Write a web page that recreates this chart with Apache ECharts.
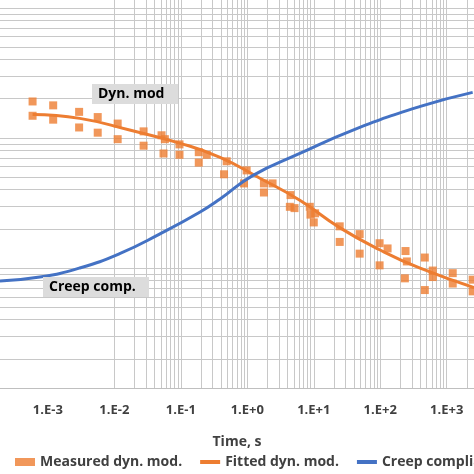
<!DOCTYPE html>
<html><head><meta charset="utf-8">
<script src="https://cdn.jsdelivr.net/npm/echarts@6/dist/echarts.min.js"></script>
<style>html,body{margin:0;padding:0;background:#fff}#c{width:474px;height:474px}</style>
</head><body><div id="c"></div>
<script>
// values stored as log10 exponents (time in s, modulus/compliance arbitrary units)
const measuredLogT = [-3.23,-3.23,-2.92,-2.92,-2.53,-2.53,-2.25,-2.25,-1.95,-1.95,-1.56,-1.56,-1.29,-1.24,-1.26,-1.02,-1.02,-0.73,-0.73,-0.61,-0.35,-0.31,-0.05,-0.01,0.25,0.25,0.38,0.65,0.64,0.71,0.94,0.95,1.02,1.00,1.39,1.39,1.69,1.69,1.99,2.11,1.99,2.38,2.40,2.37,2.67,2.67,2.79,2.79,3.09,3.09,3.39,3.39];
const measuredLogY = [2.28,2.17,2.25,2.14,2.20,2.08,2.16,2.04,2.11,1.99,2.05,1.94,2.02,1.99,1.88,1.95,1.87,1.89,1.81,1.87,1.72,1.82,1.65,1.75,1.65,1.58,1.65,1.56,1.47,1.46,1.47,1.41,1.42,1.35,1.32,1.20,1.26,1.11,1.19,1.15,1.02,1.13,1.05,0.92,1.08,0.83,0.98,0.93,0.96,0.88,0.91,0.82];
const fittedLogT = [-3.23,-2.52,-1.77,-1.02,-0.41,0.19,0.79,1.39,1.99,2.59,3.41];
const fittedLogY = [2.18,2.15,2.06,1.96,1.85,1.69,1.52,1.31,1.14,1.00,0.85];
const creepLogT = [-3.72,-3.12,-2.52,-1.92,-1.32,-0.71,-0.41,0.08,0.79,1.59,2.59,3.39];
const creepLogY = [0.90,0.93,1.00,1.11,1.26,1.43,1.53,1.71,1.88,2.06,2.24,2.35];
const xRangeLog = [-3.72, 3.41];
const yRangeLog = [0.077, 3.06];
const seriesNames = ['Measured dyn. mod.','Fitted dyn. mod.','Creep compliance'];
const annotations = ['Dyn. mod','Creep comp.'];

const p = v => Math.pow(10, v);
const pts = (a,b) => a.map((v,i)=>[p(v), p(b[i])]);
function gridVals(lo, hi){
  const out=[];
  for(let e=Math.floor(lo); e<=Math.ceil(hi); e++) for(let m=1;m<=9;m++){const v=m*Math.pow(10,e); if(Math.log10(v)>lo&&Math.log10(v)<hi) out.push(v);}
  return out;
}
const gl = {color:'#c8c8c8', width:1, type:'solid'};
const gridLines = gridVals(...xRangeLog).map(v=>({xAxis:v})).concat(gridVals(...yRangeLog).map(v=>({yAxis:v})));
const font = '"Open Sans", "Liberation Sans", sans-serif';
const chart = echarts.init(document.getElementById('c'));
chart.setOption({
  animation:false,
  grid:{left:0,right:0,top:0,bottom:86},
  xAxis:{type:'log',logBase:10,min:p(xRangeLog[0]),max:p(xRangeLog[1]),
    name:'Time, s',nameLocation:'middle',nameGap:47,
    nameTextStyle:{fontFamily:font,fontWeight:'bold',fontSize:14,color:'#404040'},
    axisLine:{lineStyle:{color:'#bfbfbf'}},axisTick:{show:false},splitLine:{show:false},minorSplitLine:{show:false},
    axisLabel:{showMinLabel:false,showMaxLabel:false,margin:16,fontFamily:font,fontWeight:'bold',fontSize:13,color:'#404040',
      formatter:v=>{const e=Math.round(Math.log10(v)); return '1.E'+(e>=0?'+':'')+e;}}},
  yAxis:{type:'log',logBase:10,min:p(yRangeLog[0]),max:p(yRangeLog[1]),show:false,splitLine:{show:false}},
  legend:{left:10,bottom:0,width:1200,itemGap:18,itemWidth:20,itemHeight:8,
    textStyle:{fontFamily:font,fontWeight:'bold',fontSize:14,color:'#404040'},
    data:[{name:seriesNames[0],icon:'rect'},{name:seriesNames[1],icon:'path://M0,0H10V2H0Z'},{name:seriesNames[2],icon:'path://M0,0H10V2H0Z'}]},
  series:[
    {type:'line',data:[],silent:true,markLine:{silent:true,symbol:'none',label:{show:false},lineStyle:gl,data:gridLines},z:0},
    {name:seriesNames[0],type:'scatter',symbol:'rect',symbolSize:8,itemStyle:{color:'#ED7D31'},data:pts(measuredLogT,measuredLogY),zlevel:1},
    {name:seriesNames[1],type:'line',smooth:true,showSymbol:false,lineStyle:{color:'#ED7D31',width:3},itemStyle:{color:'#ED7D31'},data:pts(fittedLogT,fittedLogY),zlevel:1},
    {name:seriesNames[2],type:'line',smooth:true,showSymbol:false,lineStyle:{color:'#4472C4',width:3},itemStyle:{color:'#4472C4'},data:pts(creepLogT,creepLogY),zlevel:1}
  ],
  graphic:[
    {type:'text',left:92,top:84,z:10,zlevel:2,style:{text:annotations[0],font:'bold 14px '+font,fill:'#000',backgroundColor:'#dcdcdc',padding:[3,14,3,6],width:66}},
    {type:'text',left:43,top:277,z:10,zlevel:2,style:{text:annotations[1],font:'bold 14px '+font,fill:'#000',backgroundColor:'#dcdcdc',padding:[3,14,3,6],width:86}}
  ]
});
</script></body></html>
